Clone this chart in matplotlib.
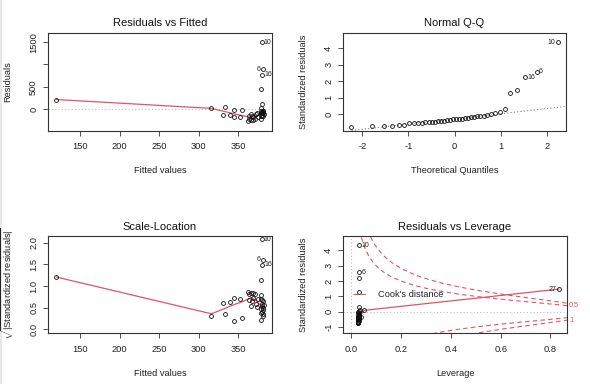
import numpy as np
import matplotlib
matplotlib.use("Agg")
import matplotlib.pyplot as plt
from matplotlib.transforms import blended_transform_factory, offset_copy
from statistics import NormalDist

plt.rcParams.update({
    "font.family": ["Liberation Sans", "DejaVu Sans"],
    "axes.unicode_minus": False,
    "mathtext.fontset": "custom",
    "mathtext.rm": "Liberation Sans",
    "mathtext.it": "Liberation Sans:italic",
    "mathtext.bf": "Liberation Sans:bold",
})

# ---------------- data (one entry per observation, id = index + 1) ----------------
fitted = [362, 330, 379.0, 366, 316, 381.0, 368, 333, 380.0, 379.5,
          371, 345, 381.5, 364, 355, 380.0, 378.0, 340, 382.0, 345,
          369, 352, 379.5, 375, 363, 380.5, 120, 367, 378.5, 372,
          381.0, 366, 380.0, 374, 379.0, 381.5, 380.5, 378.5, 380.0, 379.0]
residuals = [-259, -131, -166, -245, 34, 890, -242, 45, -159, 1494,
             -231, -14, -145, -228, -24, 769, -217, -138, -110, -180,
             -176, -173, -97, -169, -162, -86, 212, -152, -79, -121,
             -69, -104, -59, -90, -48, -41, -35, 17, 114, 452]
std_resid = [-0.75, -0.38, -0.48, -0.71, 0.10, 2.58, -0.70, 0.13, -0.46, 4.33,
             -0.67, -0.04, -0.42, -0.66, -0.07, 2.23, -0.63, -0.40, -0.32, -0.52,
             -0.51, -0.50, -0.28, -0.49, -0.47, -0.25, 1.47, -0.44, -0.23, -0.35,
             -0.20, -0.30, -0.17, -0.26, -0.14, -0.12, -0.10, 0.05, 0.33, 1.31]
leverage = [0.0251, 0.0371, 0.0308, 0.0257, 0.0517, 0.0320, 0.0262, 0.0348, 0.0314, 0.0311,
            0.0271, 0.0278, 0.0323, 0.0254, 0.0252, 0.0314, 0.0302, 0.0302, 0.0326, 0.0278,
            0.0264, 0.0257, 0.0311, 0.0287, 0.0252, 0.0317, 0.833, 0.0259, 0.0305, 0.0274,
            0.0320, 0.0257, 0.0314, 0.0282, 0.0308, 0.0323, 0.0317, 0.0305, 0.0314, 0.0308]
n_params = 2
cook_levels = [0.5, 1.0]

titles = ["Residuals vs Fitted", "Normal Q-Q", "Scale-Location", "Residuals vs Leverage"]
xlabels = ["Fitted values", "Theoretical Quantiles", "Fitted values", "Leverage"]
ylabels = ["Residuals", "Standardized residuals",
           r"$\sqrt{|\mathrm{Standardized\ residuals}|}$", "Standardized residuals"]

RED = "#DF536B"
GRAY = "#BEBEBE"

yh = np.array(fitted, float)
r = np.array(residuals, float)
rs = np.array(std_resid, float)
hii = np.array(leverage, float)
ids = np.arange(1, len(yh) + 1)
n = len(yh)


def lowess(x, y, f=2 / 3, it=3):
    x = np.asarray(x, float)
    y = np.asarray(y, float)
    o = np.argsort(x, kind="mergesort")
    xs, ys = x[o], y[o]
    m = len(xs)
    ns = max(min(int(f * m + 1e-7), m), 2)
    rw = np.ones(m)
    fit = np.zeros(m)
    for k in range(it + 1):
        for i in range(m):
            d = np.abs(xs - xs[i])
            h = np.sort(d)[ns - 1]
            if h > 0:
                w = np.where(d <= 0.001 * h, 1.0,
                             np.where(d <= 0.999 * h, (1 - (d / h) ** 3) ** 3, 0.0))
            else:
                w = (d == 0).astype(float)
            w = w * rw
            if w.sum() <= 0:
                fit[i] = ys[i]
                continue
            w = w / w.sum()
            if h > 0:
                a = np.sum(w * xs)
                b = xs[i] - a
                c = np.sum(w * (xs - a) ** 2)
                if np.sqrt(c) > 0.001 * (xs[-1] - xs[0]):
                    b /= c
                    w = w * (b * (xs - a) + 1)
            fit[i] = np.sum(w * ys)
        if k == it:
            break
        res = ys - fit
        cmad = 6 * np.median(np.abs(res))
        if cmad < 1e-7 * np.mean(np.abs(ys)):
            break
        rr = np.abs(res)
        rw = np.where(rr <= 0.001 * cmad, 1.0,
                      np.where(rr <= 0.999 * cmad, (1 - (rr / cmad) ** 2) ** 2, 0.0))
    return xs, fit


def ext(lo, hi, f=0.04):
    d = (hi - lo) * f
    return lo - d, hi + d


W, H = 590, 384
fig = plt.figure(figsize=(W / 100, H / 100), dpi=100)


def add_ax(L, T, R, B):
    return fig.add_axes([L / W, 1 - B / H, (R - L) / W, (B - T) / H])


def ftext(x, y, s, **kw):
    fig.text(x / W, 1 - y / H, s, **kw)


def style(ax):
    for sp in ax.spines.values():
        sp.set_color("#333333")
        sp.set_linewidth(0.8)
    ax.tick_params(direction="out", length=3.6, width=0.6, colors="#333333",
                   labelcolor="#222222", labelsize=6.7)
    ax.tick_params(axis="x", pad=5.0)
    ax.tick_params(axis="y", pad=3.5, labelrotation=90)
    for lab in ax.get_yticklabels():
        lab.set_va("center")


def pts(ax, x, y):
    ax.plot(x, y, linestyle="none", marker="o", markersize=2.8, markerfacecolor="none",
            markeredgecolor="#111111", markeredgewidth=0.6, zorder=3)


def idlabels(ax, x, y, which, adj_x=True):
    xx = x[which]
    mid = (xx.min() + xx.max()) / 2
    for j in which:
        left = adj_x and x[j] > mid
        tr = offset_copy(ax.transData, fig=fig, x=(-1.6 if left else 1.6), y=0, units="points")
        ax.text(x[j], y[j], str(ids[j]), transform=tr, fontsize=5,
                ha="right" if left else "left", va="center", color="#222222", clip_on=False)


PAN = [(48, 32.5, 272, 130.5), (343, 32.5, 566, 130.5),
       (48, 235.5, 272, 333), (343, 235.5, 567, 333)]
axs = [add_ax(*p) for p in PAN]
for ax in axs:
    style(ax)

top3_r = np.argsort(-np.abs(r))[:3]

# ---- 1: Residuals vs Fitted
ax = axs[0]
ax.set_xlim(*ext(yh.min(), yh.max()))
lo, hi = r.min(), r.max()
d = (hi - lo) * 0.08
ax.set_ylim(*ext(lo - d, hi + d))
ax.axhline(0, color=GRAY, lw=0.8, ls=(0, (1, 2)), zorder=1)
pts(ax, yh, r)
sx, sy = lowess(yh, r)
ax.plot(sx, sy, color=RED, lw=0.9, zorder=2)
idlabels(ax, yh, r, top3_r)
ax.set_xticks([150, 200, 250, 300, 350])
ax.set_yticks([0, 500, 1000, 1500])
ax.set_yticklabels(["0", "500", "", "1500"])

# ---- 2: Normal Q-Q
ax = axs[1]
nd = NormalDist()
pp = [(i - 0.5) / n for i in range(1, n + 1)]
qs = np.array([nd.inv_cdf(p) for p in pp])
rank = np.argsort(np.argsort(rs, kind="mergesort"), kind="mergesort")
qx = qs[rank]
ax.set_xlim(*ext(qx.min(), qx.max()))
lo, hi = rs.min(), rs.max()
hi = hi + (hi - lo) * 0.075
ax.set_ylim(*ext(lo, hi))
y25, y75 = np.percentile(rs, [25, 75])
x25, x75 = nd.inv_cdf(0.25), nd.inv_cdf(0.75)
slope = (y75 - y25) / (x75 - x25)
icpt = y25 - slope * x25
ax.axline((0, icpt), slope=slope, color="#7F7F7F", lw=0.8, ls=(0, (1, 2)), zorder=1)
pts(ax, qx, rs)
top3_s = np.argsort(-np.abs(rs))[:3]
idlabels(ax, qx, rs, top3_s)
ax.set_xticks([-2, -1, 0, 1, 2])
ax.set_yticks([0, 1, 2, 3, 4])

# ---- 3: Scale-Location
ax = axs[2]
sq = np.sqrt(np.abs(rs))
ax.set_xlim(*ext(yh.min(), yh.max()))
ax.set_ylim(*ext(0, sq.max()))
pts(ax, yh, sq)
sx, sy = lowess(yh, sq)
ax.plot(sx, sy, color=RED, lw=0.9, zorder=2)
idlabels(ax, yh, sq, top3_r)
ax.set_xticks([150, 200, 250, 300, 350])
ax.set_yticks([0.0, 0.5, 1.0, 1.5, 2.0])
ax.set_yticklabels(["0.0", "0.5", "1.0", "1.5", "2.0"])

# ---- 4: Residuals vs Leverage
ax = axs[3]
xl = ext(0, hii.max())
ax.set_xlim(*xl)
lo, hi = rs.min(), rs.max()
d = (hi - lo) * 0.08
yl = ext(lo - d, hi + d)
ax.set_ylim(*yl)
ax.axhline(0, color=GRAY, lw=0.8, ls=(0, (1, 2)), zorder=1)
ax.axvline(0, color=GRAY, lw=0.8, ls=(0, (1, 2)), zorder=1)
pts(ax, hii, rs)
sx, sy = lowess(hii, rs)
ax.plot(sx, sy, color=RED, lw=0.9, zorder=2)
hh = np.linspace(min(hii.min(), hii.max() / 100), xl[1], 101)
for crit in cook_levels:
    cl = np.sqrt(crit * n_params * (1 - hh) / hh)
    ax.plot(hh, cl, color=RED, lw=0.8, ls=(0, (4, 3)), zorder=2)
    ax.plot(hh, -cl, color=RED, lw=0.8, ls=(0, (4, 3)), zorder=2)
ax.set_ylim(*yl)
ax.set_xlim(*xl)
cook = rs ** 2 * hii / (n_params * (1 - hii))
top3_c = np.argsort(-cook)[:3]
idlabels(ax, hii, rs, top3_c)
xmax = xl[1]
aty = [np.sqrt(c * n_params * (1 - xmax) / xmax) for c in cook_levels]
btr = blended_transform_factory(ax.transAxes, ax.transData)
btr = offset_copy(btr, fig=fig, x=1.5, y=0, units="points")
ax.text(1.0, -aty[1], "1", transform=btr, color=RED, fontsize=5.2, ha="left", va="center", clip_on=False)
ax.text(1.0, aty[0], "0.5", transform=btr, color=RED, fontsize=5.2, ha="left", va="center", clip_on=False)
ax.plot([0.044, 0.103], [0.395, 0.395], transform=ax.transAxes, color=RED, lw=0.8, ls=(0, (4, 3)))
ax.text(0.158, 0.395, "Cook's distance", transform=ax.transAxes, fontsize=6.7,
        ha="left", va="center", color="#222222")
ax.set_xticks([0.0, 0.2, 0.4, 0.6, 0.8])
ax.set_xticklabels(["0.0", "0.2", "0.4", "0.6", "0.8"])
ax.set_yticks([-1, 0, 1, 2, 3, 4])

# ---- titles and axis labels
for i, (L, T, R, B) in enumerate(PAN):
    cx = (L + R) / 2
    cy = (T + B) / 2
    ftext(cx, T - 9, titles[i], fontsize=8, ha="center", va="center", color="#111111")
    ftext(cx, B + 40, xlabels[i], fontsize=6.7, ha="center", va="center", color="#222222")
    ftext(L - 40, cy, ylabels[i], fontsize=6.7, ha="center", va="center",
          rotation=90, color="#222222")

# thin light border on the left edge of the screenshot
fig.add_artist(plt.Line2D([0.8 / W, 0.8 / W], [0, 1], color="#E3E3E3", lw=1.2))

fig.savefig("out.png", dpi=100)
